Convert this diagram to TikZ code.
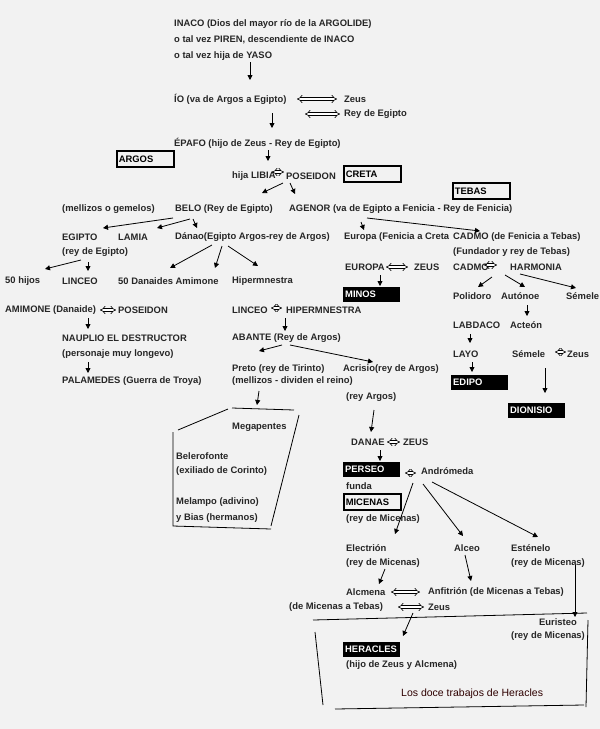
\documentclass[tikz,border=0pt]{standalone}
\usepackage{fontspec}
\setmainfont{Liberation Sans}
\usetikzlibrary{arrows.meta}
\begin{document}
\begin{tikzpicture}[x=1pt,y=-1pt,
  lbl/.style={anchor=west,inner sep=0pt,font=\fontsize{9.4}{11}\selectfont\bfseries,text=black!85},
  ar/.style={-{Triangle[length=5pt,width=5pt]},line width=0.8pt},
  dbl/.style={double,double distance=2.2pt,line width=0.6pt,{Implies}-{Implies}},
  wbox/.style={draw,line width=1.6pt,anchor=north west,minimum width=57pt,minimum height=16pt,inner sep=2pt,text width=53pt,align=left,font=\fontsize{9.4}{11}\selectfont\bfseries},
  bbox/.style={fill=black,text=white,anchor=north west,minimum width=57pt,minimum height=15pt,inner sep=2pt,text width=53pt,align=left,font=\fontsize{9.4}{11}\selectfont\bfseries},
  bl/.style={line width=0.8pt}]
\fill[black!5] (0,0) rectangle (600,729);
\useasboundingbox (0,0) rectangle (600,729);
% text nodes
\node[lbl] (inaco) at (174,24) {INACO (Dios del mayor río de la ARGOLIDE)};
\node[lbl] (piren) at (174,40) {o tal vez PIREN, descendiente de INACO};
\node[lbl] (yaso) at (174,56) {o tal vez hija de YASO};
\node[lbl] (io) at (174,99) {ÍO (va de Argos a Egipto)};
\node[lbl] (zeus1) at (344,99) {Zeus};
\node[lbl] (reyeg) at (344,114) {Rey de Egipto};
\node[lbl] (epafo) at (174,143) {ÉPAFO (hijo de Zeus - Rey de Egipto)};
\node[lbl] (libia) at (232,176) {hija LIBIA};
\node[lbl] (pos1) at (286,176) {POSEIDON};
\node[lbl] (mell) at (62,209) {(mellizos o gemelos)};
\node[lbl] (belo) at (175,209) {BELO (Rey de Egipto)};
\node[lbl] (agenor) at (289,209) {AGENOR (va de Egipto a Fenicia - Rey de Fenicia)};
\node[lbl] (egipto) at (62,237) {EGIPTO};
\node[lbl] (lamia) at (118,237) {LAMIA};
\node[lbl] (danao) at (175,237) {Dánao(Egipto Argos-rey de Argos)};
\node[lbl] (europa) at (344,237) {Europa (Fenicia a Creta};
\node[lbl,fill=black!5,inner sep=1pt] (cadmo) at (452,237) {CADMO (de Fenicia a Tebas)};
\node[lbl] (reyeg2) at (62,252) {(rey de Egipto)};
\node[lbl] (fund) at (453,252) {(Fundador y rey de Tebas)};
\node[lbl] (europa2) at (345,267) {EUROPA};
\node[lbl] (zeus2) at (414,267) {ZEUS};
\node[lbl] (cadmo2) at (453,267) {CADMO};
\node[lbl] (harm) at (510,267) {HARMONIA};
\node[lbl] (hijos) at (5,281) {50 hijos};
\node[lbl] (linceo) at (62,281) {LINCEO};
\node[lbl] (danaides) at (118,281) {50 Danaides Amimone};
\node[lbl] (hiper) at (232,281) {Hipermnestra};
\node[lbl] (polid) at (453,296) {Polidoro};
\node[lbl] (auton) at (501,296) {Autónoe};
\node[lbl] (semele) at (566,296) {Sémele};
\node[lbl] (amimone) at (5,310) {AMIMONE (Danaide)};
\node[lbl] (pos2) at (118,310) {POSEIDON};
\node[lbl] (linceo2) at (232,310) {LINCEO};
\node[lbl] (hiper2) at (286,310) {HIPERMNESTRA};
\node[lbl] (labd) at (453,325) {LABDACO};
\node[lbl] (acteon) at (510,325) {Acteón};
\node[lbl] (nauplio) at (62,338) {NAUPLIO EL DESTRUCTOR};
\node[lbl] (abante) at (232,338) {ABANTE (Rey de Argos)};
\node[lbl] (longevo) at (62,354) {(personaje muy longevo)};
\node[lbl] (layo) at (453,354) {LAYO};
\node[lbl] (semele2) at (512,354) {Sémele};
\node[lbl] (zeus3) at (567,354) {Zeus};
\node[lbl] (preto) at (232,369) {Preto (rey de Tirinto)};
\node[lbl] (acrisio) at (343,369) {Acrisio(rey de Argos)};
\node[lbl] (palam) at (62,381) {PALAMEDES (Guerra de Troya)};
\node[lbl] (mell2) at (232,381) {(mellizos - dividen el reino)};
\node[lbl] (reyarg) at (346,397) {(rey Argos)};
\node[lbl] (megap) at (232,427) {Megapentes};
\node[lbl] (danae) at (351,442) {DANAE};
\node[lbl] (zeus4) at (403,442) {ZEUS};
\node[lbl] (beler) at (176,456) {Belerofonte};
\node[lbl] (exil) at (176,471) {(exiliado de Corinto)};
\node[lbl] (androm) at (421,471) {Andrómeda};
\node[lbl] (funda) at (346,486) {funda};
\node[lbl] (melampo) at (176,502) {Melampo (adivino)};
\node[lbl] (bias) at (176,518) {y Bias (hermanos)};
\node[lbl] (reymic) at (346,519) {(rey de Micenas)};
\node[lbl] (electr) at (346,548) {Electrión};
\node[lbl] (alceo) at (454,548) {Alceo};
\node[lbl] (esten) at (511,548) {Esténelo};
\node[lbl] (reymic2) at (346,563) {(rey de Micenas)};
\node[lbl] (reymic3) at (511,563) {(rey de Micenas)};
\node[lbl] (alcm) at (346,592) {Alcmena};
\node[lbl] (anfit) at (428,592) {Anfitrión (de Micenas a Tebas)};
\node[lbl] (demic) at (289,607) {(de Micenas a Tebas)};
\node[lbl] (zeus5) at (428,607) {Zeus};
\node[lbl] (euris) at (539,622) {Euristeo};
\node[lbl] (reymic4) at (511,636) {(rey de Micenas)};
\node[lbl] (hijo) at (346,665) {(hijo de Zeus y Alcmena)};
\node[anchor=west,inner sep=0pt,font=\fontsize{10.5}{12}\selectfont,text=black!70!red!60!black] (doce) at (401,694) {Los doce trabajos de Heracles};
% boxes
\node[wbox] (argos) at (116,150) {ARGOS};
\node[wbox] (creta) at (343,165) {CRETA};
\node[wbox] (tebas) at (452,182) {TEBAS};
\node[wbox] (micenas) at (343,493) {MICENAS};
\node[bbox] (minos) at (343,287) {MINOS};
\node[bbox] (edipo) at (451,375) {EDIPO};
\node[bbox] (dionisio) at (508,403) {DIONISIO};
\node[bbox] (perseo) at (343,462) {PERSEO};
\node[bbox] (heracles) at (343,642) {HERACLES};
% arrows
\draw[ar] (250,62) -- (250,80);
\draw[ar] (272,113) -- (272,128);
\draw[ar] (268,150) -- (268,161);
\draw[ar] (283,183) -- (262,193);
\draw[ar] (290,183) -- (295,194);
\draw[ar] (173,218) -- (103,228);
\draw[ar] (190,219) -- (157,228);
\draw[ar] (193,219) -- (197,228);
\draw[ar] (361,222) -- (364,230);
\draw[ar] (367,218) -- (480,231);
\draw[ar] (81,260) -- (45,269);
\draw[ar] (88,262) -- (88,271);
\draw[ar] (212,245) -- (170,268);
\draw[ar] (222,246) -- (215,268);
\draw[ar] (228,246) -- (258,266);
\draw[ar] (380,275) -- (380,286);
\draw[ar] (492,277) -- (478,287);
\draw[ar] (505,275) -- (525,287);
\draw[ar] (520,274) -- (576,288);
\draw[ar] (88,318) -- (88,329);
\draw[ar] (285,318) -- (285,331);
\draw[ar] (527,305) -- (527,316);
\draw[ar] (470,334) -- (470,343);
\draw[ar] (282,345) -- (259,351);
\draw[ar] (290,345) -- (373,362);
\draw[ar] (88,362) -- (88,373);
\draw[ar] (472,362) -- (472,372);
\draw[ar] (545,368) -- (545,393);
\draw[ar] (259,391) -- (257,405);
\draw[ar] (374,410) -- (371,432);
\draw[ar] (380,450) -- (380,461);
\draw[ar] (413,483) -- (395,534);
\draw[ar] (423,484) -- (463,536);
\draw[ar] (432,482) -- (538,537);
\draw[ar] (385,569) -- (379,584);
\draw[ar] (465,555) -- (471,581);
\draw[ar] (575,565) -- (575,617);
\draw[ar] (413,613) -- (403,636);
% double arrows
\draw[dbl] (297,99) -- (337,99);
\draw[dbl] (305,114) -- (340,114);
\draw[dbl] (272,172) -- (284,172);
\draw[dbl] (386,267) -- (408,267);
\draw[dbl] (484,265) -- (497,265);
\draw[dbl] (100,310) -- (116,310);
\draw[dbl] (271,308) -- (282,308);
\draw[dbl] (555,352) -- (566,352);
\draw[dbl] (387,442) -- (400,442);
\draw[dbl] (405,473) -- (416,473);
\draw[dbl] (391,592) -- (420,592);
\draw[dbl] (398,607) -- (424,607);
% frames
\draw[bl] (232,408) -- (294,410);
\draw[bl] (178,430) -- (228,409);
\draw[bl] (173,432) -- (173,526) -- (271,529);
\draw[bl] (271,526) -- (299,415);
\draw[bl] (313,620) -- (587,613);
\draw[bl] (315,632) -- (323,705);
\draw[bl] (335,709) -- (584,705);
\draw[bl] (588,620) -- (586,707);
\end{tikzpicture}
\end{document}
